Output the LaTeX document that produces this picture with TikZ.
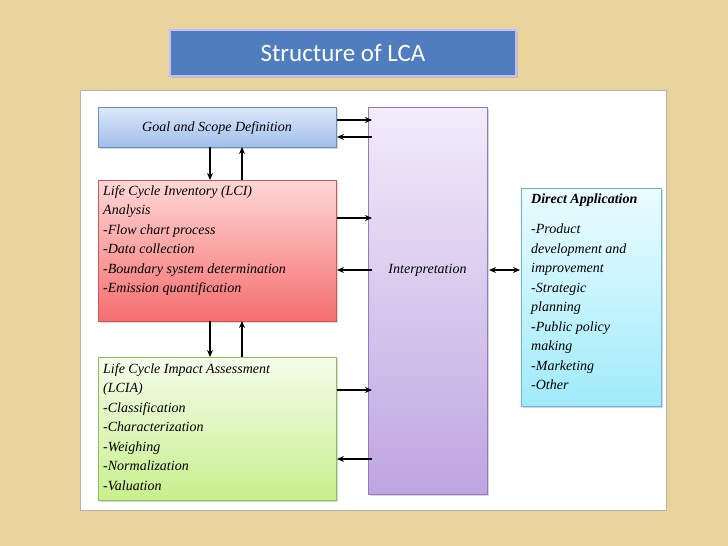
\documentclass[tikz,border=0pt]{standalone}
\usepackage{fontspec}
\setmainfont{Liberation Serif}
\newfontfamily\titlefont{Carlito}
\usetikzlibrary{arrows.meta,shadows}
\definecolor{bg}{HTML}{E8D49C}
\definecolor{gT}{RGB}{220,232,250}\definecolor{gB}{RGB}{160,190,235}\definecolor{gD}{RGB}{110,140,190}
\definecolor{rT}{RGB}{255,215,215}\definecolor{rB}{RGB}{245,110,110}\definecolor{rD}{RGB}{200,90,90}
\definecolor{lT}{RGB}{245,252,235}\definecolor{lB}{RGB}{200,240,140}\definecolor{lD}{RGB}{140,190,90}
\definecolor{vT}{RGB}{242,236,250}\definecolor{vB}{RGB}{190,165,225}\definecolor{vD}{RGB}{150,120,190}
\definecolor{cT}{RGB}{235,252,255}\definecolor{cB}{RGB}{160,235,250}\definecolor{cD}{RGB}{110,180,210}
\definecolor{tF}{RGB}{79,125,190}
\begin{document}
\begin{tikzpicture}[x=1pt,y=-1pt,
 box/.style={draw=#1, line width=0.6pt, drop shadow={opacity=0.3,shadow xshift=1.5pt,shadow yshift=-1.5pt}},
 txt/.style={font=\itshape\fontsize{14}{19.5}\selectfont, align=left, anchor=north west, inner sep=0pt},
 arr/.style={-{Stealth[length=7pt,width=6pt]}, line width=1.4pt}]
\useasboundingbox (0,0) rectangle (728,546);
\fill[bg] (0,0) rectangle (728,546);
\node[fill=tF, draw=white!75!blue, line width=2pt, minimum width=346pt, minimum height=46pt, text=white, font=\titlefont\fontsize{25}{28}\selectfont, drop shadow={opacity=0.3}] (title) at (343,53) {Structure of LCA};
\fill[white, draw=gray!60] (80,90) rectangle (666,510);
\shade[top color=gT, bottom color=gB, box=gD] (98,107) rectangle (336,147);
\node[font=\itshape\fontsize{14}{15}\selectfont] (goal) at (217,128) {Goal and Scope Definition};
\shade[top color=rT, bottom color=rB, box=rD] (98,180) rectangle (336,321);
\node[txt] (lci) at (103,185) {Life Cycle Inventory (LCI)\\Analysis\\-Flow chart process\\-Data collection\\-Boundary system determination\\-Emission quantification};
\shade[top color=lT, bottom color=lB, box=lD] (98,357) rectangle (336,500);
\node[txt] (lcia) at (103,363) {Life Cycle Impact Assessment\\(LCIA)\\-Classification\\-Characterization\\-Weighing\\-Normalization\\-Valuation};
\shade[top color=vT, bottom color=vB, box=vD] (368,107) rectangle (487,494);
\node[font=\itshape\fontsize{14}{15}\selectfont] (interp) at (427.5,270) {Interpretation};
\shade[top color=cT, bottom color=cB, box=cD] (521,188) rectangle (661,406);
\node[txt, font=\bfseries\itshape\fontsize{14}{19.5}\selectfont] (da) at (531,194) {Direct Application};
\node[txt] (dat) at (531,224) {-Product\\development and\\improvement\\-Strategic\\planning\\-Public policy\\making\\-Marketing\\-Other};
\coordinate (a1) at (210,147); \coordinate (a2) at (210,180);
\coordinate (b1) at (242,180); \coordinate (b2) at (242,147);
\coordinate (c1) at (210,321); \coordinate (c2) at (210,357);
\coordinate (d1) at (242,357); \coordinate (d2) at (242,321);
\draw[arr] (a1) -- (a2); \draw[arr] (b1) -- (b2);
\draw[arr] (c1) -- (c2); \draw[arr] (d1) -- (d2);
\foreach \y in {120,218,390} \draw[arr] (337,\y) -- (372,\y);
\foreach \y in {137,270,459} \draw[arr] (372,\y) -- (337,\y);
\draw[{Stealth[length=7pt,width=6pt]}-{Stealth[length=7pt,width=6pt]}, line width=1.4pt] (489,270) -- (520,270);
\end{tikzpicture}
\end{document}
